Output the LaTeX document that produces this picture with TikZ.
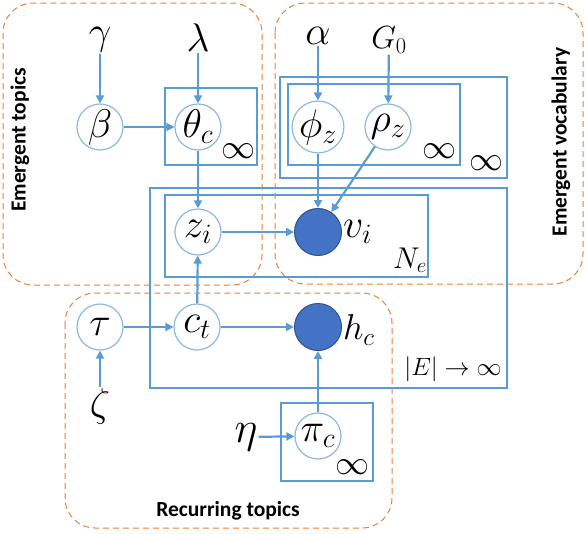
\RequirePackage{fix-cm}
\documentclass[tikz,border=0pt]{standalone}
\usepackage{fontspec}
\newfontfamily\calib{Carlito}
\usetikzlibrary{arrows.meta}
\definecolor{lblue}{RGB}{91,155,213}
\definecolor{cblue}{RGB}{140,185,225}
\definecolor{fblue}{RGB}{68,114,196}
\definecolor{dblue}{RGB}{47,82,143}
\definecolor{orng}{RGB}{237,125,49}
\tikzset{
  var/.style={circle,draw=cblue,line width=1.2pt,minimum size=46pt,inner sep=0pt,fill=white,font=\fontsize{40}{44}\selectfont},
  obs/.style={circle,draw=dblue,line width=1pt,fill=fblue,minimum size=47pt,inner sep=0pt},
  plate/.style={draw=lblue,line width=2.2pt},
  grp/.style={draw=orng,line width=1pt,dash pattern=on 6pt off 4pt,rounded corners=30pt},
  hyp/.style={inner sep=1pt,font=\fontsize{40}{44}\selectfont},
  lab/.style={inner sep=0pt,font=\fontsize{34}{38}\selectfont},
  arr/.style={draw=lblue,line width=2.2pt,-{Triangle[length=8pt,width=8pt]}},
  ttl/.style={inner sep=0pt,font=\calib\bfseries\fontsize{21.5}{24}\selectfont}
}
\begin{document}
\begin{tikzpicture}[x=1pt,y=-1pt]
\useasboundingbox (0,0) rectangle (585,533);
% group boxes
\draw[grp] (3,3) rectangle (262,285);
\draw[grp] (275,3) rectangle (583,284);
\draw[grp] (65,293) rectangle (392,528);
% plates
\draw[plate] (165,88) rectangle (257,165);
\draw[plate] (280,77) rectangle (507,178);
\draw[plate] (288,84) rectangle (460,165);
\draw[plate] (150,188) rectangle (507,388);
\draw[plate] (165,195) rectangle (428,277);
\draw[plate] (281,403) rectangle (373,481);
% plate labels
\node[lab] (inf1) at (238,151) {$\infty$};
\node[lab] (inf2) at (439,151) {$\infty$};
\node[lab] (inf3) at (486,163) {$\infty$};
\node[lab] (inf4) at (352,467) {$\infty$};
\node[inner sep=0pt,font=\fontsize{30}{34}\selectfont] (ne) at (410,260) {$N_e$};
\node[inner sep=0pt,font=\fontsize{25}{28}\selectfont] (elab) at (453,369) {$|E|\to\infty$};
% hyperparameters
\node[hyp] (gamma) at (100,40) {$\gamma$};
\node[hyp] (lambda) at (198,38) {$\lambda$};
\node[hyp] (alpha) at (318,36) {$\alpha$};
\node[inner sep=1pt,font=\fontsize{32}{36}\selectfont] (g0) at (389,40) {$G_0$};
\node[hyp] (zeta) at (100,406) {$\zeta$};
\node[inner sep=1pt,font=\fontsize{44}{48}\selectfont] (eta) at (246,437) {$\eta$};
% variables
\node[var] (beta) at (100,127) {$\beta$};
\node[var] (theta) at (198,127) {$\theta_c$};
\node[var] (phi) at (318,127) {$\phi_z$};
\node[var] (rho) at (388,127) {$\rho_z$};
\node[var] (z) at (198,232) {$z_i$};
\node[obs] (v) at (318,232) {};
\node[var] (tau) at (100,327) {$\tau$};
\node[var] (c) at (197,327) {$c_t$};
\node[obs] (h) at (318,327) {};
\node[var] (pi) at (318,436) {$\pi_c$};
\node[inner sep=0pt,anchor=west,font=\fontsize{40}{44}\selectfont] (vl) at ([xshift=1pt]v.east) {$v_i$};
\node[inner sep=0pt,anchor=west,font=\fontsize{36}{40}\selectfont] (hl) at ([xshift=1pt,yshift=-3pt]h.east) {$h_c$};
% arrows
\draw[arr] (gamma) -- (beta);
\draw[arr] (lambda) -- (theta);
\draw[arr] (beta) -- (theta);
\draw[arr] (theta) -- (z);
\draw[arr] (z) -- (v);
\draw[arr] (alpha) -- (phi);
\draw[arr] (g0) -- (rho);
\draw[arr] (phi) -- (v);
\draw[arr] (rho) -- (v);
\draw[arr] (tau) -- (c);
\draw[arr] (c) -- (z);
\draw[arr] (c) -- (h);
\draw[arr] (zeta) -- (tau);
\draw[arr] (eta) -- (pi);
\draw[arr] (pi) -- (h);
% titles
\node[ttl,rotate=90] (t1) at (20,140) {Emergent topics};
\node[ttl,rotate=90] (t2) at (561,142) {Emergent vocabulary};
\node[ttl] (t3) at (228,511) {Recurring topics};
\end{tikzpicture}
\end{document}
